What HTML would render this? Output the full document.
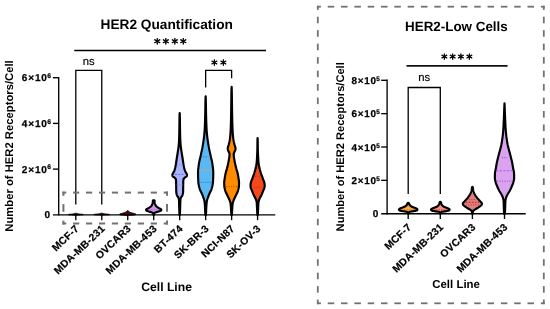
<!DOCTYPE html>
<html><head><meta charset="utf-8"><title>HER2 Quantification</title>
<style>html,body{margin:0;padding:0;background:#fff}svg{display:block}text{fill:#000;text-rendering:geometricPrecision}</style>
</head><body>
<svg width="550" height="309" viewBox="0 0 550 309">
<rect width="550" height="309" fill="#fff"/>
<path d="M75.80,213.22 L76.22,213.28 L76.62,213.35 L76.97,213.42 L77.28,213.49 L77.54,213.56 L77.79,213.63 L78.04,213.69 L78.30,213.76 L78.60,213.83 L78.95,213.90 L79.42,213.97 L80.05,214.04 L80.76,214.10 L81.48,214.17 L82.14,214.24 L82.67,214.31 L83.00,214.38 L83.13,214.45 L83.23,214.52 L83.32,214.58 L83.39,214.65 L83.43,214.72 L83.45,214.79 L83.25,214.86 L82.55,214.93 L81.44,214.99 L80.02,215.06 L78.37,215.13 L76.61,215.20 L74.99,215.20 L73.23,215.13 L71.58,215.06 L70.16,214.99 L69.05,214.93 L68.35,214.86 L68.15,214.79 L68.17,214.72 L68.21,214.65 L68.28,214.58 L68.37,214.52 L68.47,214.45 L68.60,214.38 L68.93,214.31 L69.46,214.24 L70.12,214.17 L70.84,214.10 L71.55,214.04 L72.18,213.97 L72.65,213.90 L73.00,213.83 L73.30,213.76 L73.56,213.69 L73.81,213.63 L74.06,213.56 L74.32,213.49 L74.63,213.42 L74.98,213.35 L75.38,213.28 L75.80,213.22Z" fill="#2a0a00" stroke="#000" stroke-width="0.7" stroke-linejoin="round"/>
<path d="M101.77,213.01 L102.05,213.09 L102.33,213.17 L102.62,213.24 L102.91,213.32 L103.19,213.39 L103.47,213.47 L103.75,213.54 L104.05,213.62 L104.38,213.69 L104.75,213.77 L105.21,213.84 L105.88,213.92 L106.67,213.99 L107.50,214.07 L108.27,214.15 L108.87,214.22 L109.21,214.30 L109.36,214.37 L109.50,214.45 L109.61,214.52 L109.71,214.60 L109.77,214.67 L109.81,214.75 L109.78,214.82 L109.21,214.90 L108.04,214.97 L106.45,215.05 L104.58,215.12 L102.58,215.20 L100.96,215.20 L98.96,215.12 L97.09,215.05 L95.50,214.97 L94.33,214.90 L93.76,214.82 L93.73,214.75 L93.77,214.67 L93.83,214.60 L93.93,214.52 L94.04,214.45 L94.18,214.37 L94.33,214.30 L94.67,214.22 L95.27,214.15 L96.04,214.07 L96.87,213.99 L97.66,213.92 L98.33,213.84 L98.79,213.77 L99.16,213.69 L99.49,213.62 L99.79,213.54 L100.07,213.47 L100.35,213.39 L100.63,213.32 L100.92,213.24 L101.21,213.17 L101.49,213.09 L101.77,213.01Z" fill="#5a0a0a" stroke="#000" stroke-width="0.7" stroke-linejoin="round"/>
<path d="M127.74,210.45 L127.85,210.57 L127.96,210.70 L128.08,210.82 L128.21,210.95 L128.34,211.07 L128.49,211.20 L128.63,211.32 L128.78,211.44 L128.93,211.57 L129.09,211.69 L129.26,211.82 L129.44,211.94 L129.64,212.07 L129.86,212.19 L130.10,212.32 L130.39,212.44 L130.73,212.56 L131.12,212.69 L131.54,212.81 L131.98,212.94 L132.43,213.06 L132.86,213.19 L133.27,213.31 L133.74,213.43 L134.26,213.56 L134.79,213.68 L135.27,213.81 L135.63,213.93 L135.82,214.06 L135.83,214.18 L135.81,214.31 L135.75,214.43 L135.67,214.55 L135.57,214.68 L135.44,214.80 L134.70,214.93 L133.06,215.05 L130.85,215.18 L128.40,215.30 L127.08,215.30 L124.63,215.18 L122.42,215.05 L120.78,214.93 L120.04,214.80 L119.91,214.68 L119.81,214.55 L119.73,214.43 L119.67,214.31 L119.65,214.18 L119.66,214.06 L119.85,213.93 L120.21,213.81 L120.69,213.68 L121.22,213.56 L121.74,213.43 L122.21,213.31 L122.62,213.19 L123.05,213.06 L123.50,212.94 L123.94,212.81 L124.36,212.69 L124.75,212.56 L125.09,212.44 L125.38,212.32 L125.62,212.19 L125.84,212.07 L126.04,211.94 L126.22,211.82 L126.39,211.69 L126.55,211.57 L126.70,211.44 L126.85,211.32 L126.99,211.20 L127.14,211.07 L127.27,210.95 L127.40,210.82 L127.52,210.70 L127.63,210.57 L127.74,210.45Z" fill="#4a0808" stroke="#000" stroke-width="1.0" stroke-linejoin="round"/>
<path d="M153.71,200.17 L154.33,200.32 L154.39,200.47 L154.44,200.62 L154.48,200.77 L154.52,200.92 L154.54,201.07 L154.57,201.22 L154.58,201.37 L154.60,201.52 L154.61,201.67 L154.62,201.82 L154.63,201.97 L154.64,202.12 L154.65,202.27 L154.67,202.41 L154.68,202.56 L154.71,202.71 L154.73,202.86 L154.76,203.01 L154.80,203.16 L154.84,203.31 L154.88,203.46 L154.92,203.61 L154.97,203.76 L155.02,203.91 L155.07,204.06 L155.13,204.21 L155.19,204.36 L155.25,204.51 L155.32,204.66 L155.38,204.81 L155.46,204.96 L155.53,205.11 L155.61,205.26 L155.70,205.41 L155.80,205.56 L155.91,205.71 L156.04,205.86 L156.17,206.01 L156.31,206.16 L156.46,206.31 L156.62,206.46 L156.79,206.61 L156.96,206.76 L157.13,206.91 L157.31,207.06 L157.50,207.21 L157.71,207.36 L157.93,207.51 L158.16,207.66 L158.41,207.81 L158.65,207.96 L158.91,208.11 L159.16,208.26 L159.43,208.41 L159.75,208.56 L160.08,208.71 L160.40,208.86 L160.68,209.01 L160.89,209.16 L161.04,209.31 L161.17,209.46 L161.28,209.61 L161.33,209.76 L161.33,209.91 L161.28,210.06 L161.21,210.21 L161.12,210.36 L161.01,210.51 L160.88,210.66 L160.63,210.80 L160.27,210.95 L159.83,211.10 L159.34,211.25 L158.84,211.40 L158.37,211.55 L157.92,211.70 L157.43,211.85 L156.92,212.00 L156.42,212.15 L155.96,212.30 L155.56,212.45 L155.24,212.60 L154.93,212.75 L154.65,212.90 L154.44,213.05 L154.32,213.20 L154.27,213.35 L154.21,213.50 L154.17,213.65 L154.13,213.80 L154.09,213.95 L154.06,214.10 L154.03,214.25 L154.01,214.40 L153.99,214.55 L153.98,214.70 L153.97,214.85 L153.97,215.00 L153.45,215.00 L153.45,214.85 L153.44,214.70 L153.43,214.55 L153.41,214.40 L153.39,214.25 L153.36,214.10 L153.33,213.95 L153.29,213.80 L153.25,213.65 L153.21,213.50 L153.15,213.35 L153.10,213.20 L152.98,213.05 L152.77,212.90 L152.49,212.75 L152.18,212.60 L151.86,212.45 L151.46,212.30 L151.00,212.15 L150.50,212.00 L149.99,211.85 L149.50,211.70 L149.05,211.55 L148.58,211.40 L148.08,211.25 L147.59,211.10 L147.15,210.95 L146.79,210.80 L146.54,210.66 L146.41,210.51 L146.30,210.36 L146.21,210.21 L146.14,210.06 L146.09,209.91 L146.09,209.76 L146.14,209.61 L146.25,209.46 L146.38,209.31 L146.53,209.16 L146.74,209.01 L147.02,208.86 L147.34,208.71 L147.67,208.56 L147.99,208.41 L148.26,208.26 L148.51,208.11 L148.77,207.96 L149.01,207.81 L149.26,207.66 L149.49,207.51 L149.71,207.36 L149.92,207.21 L150.11,207.06 L150.29,206.91 L150.46,206.76 L150.63,206.61 L150.80,206.46 L150.96,206.31 L151.11,206.16 L151.25,206.01 L151.38,205.86 L151.51,205.71 L151.62,205.56 L151.72,205.41 L151.81,205.26 L151.89,205.11 L151.96,204.96 L152.04,204.81 L152.10,204.66 L152.17,204.51 L152.23,204.36 L152.29,204.21 L152.35,204.06 L152.40,203.91 L152.45,203.76 L152.50,203.61 L152.54,203.46 L152.58,203.31 L152.62,203.16 L152.66,203.01 L152.69,202.86 L152.71,202.71 L152.74,202.56 L152.75,202.41 L152.77,202.27 L152.78,202.12 L152.79,201.97 L152.80,201.82 L152.81,201.67 L152.82,201.52 L152.84,201.37 L152.85,201.22 L152.88,201.07 L152.90,200.92 L152.94,200.77 L152.98,200.62 L153.03,200.47 L153.09,200.32 L153.71,200.17Z" fill="#cf93ea" stroke="#000" stroke-width="2.15" stroke-linejoin="round"/>
<path d="M179.68,112.97 L179.73,113.47 L179.77,113.96 L179.78,114.46 L179.80,114.96 L179.81,115.46 L179.83,115.95 L179.84,116.45 L179.85,116.95 L179.86,117.45 L179.87,117.94 L179.88,118.44 L179.89,118.94 L179.89,119.44 L179.90,119.94 L179.91,120.43 L179.91,120.93 L179.92,121.43 L179.93,121.93 L179.93,122.42 L179.94,122.92 L179.94,123.42 L179.95,123.92 L179.95,124.42 L179.96,124.91 L179.96,125.41 L179.97,125.91 L179.97,126.41 L179.98,126.90 L179.99,127.40 L179.99,127.90 L180.00,128.40 L180.01,128.89 L180.02,129.39 L180.03,129.89 L180.04,130.39 L180.05,130.89 L180.06,131.38 L180.07,131.88 L180.08,132.38 L180.09,132.88 L180.10,133.37 L180.11,133.87 L180.12,134.37 L180.13,134.87 L180.15,135.36 L180.16,135.86 L180.17,136.36 L180.19,136.86 L180.20,137.36 L180.22,137.85 L180.23,138.35 L180.25,138.85 L180.27,139.35 L180.29,139.84 L180.31,140.34 L180.33,140.84 L180.36,141.34 L180.39,141.84 L180.42,142.33 L180.46,142.83 L180.49,143.33 L180.53,143.83 L180.58,144.32 L180.62,144.82 L180.67,145.32 L180.71,145.82 L180.76,146.31 L180.82,146.81 L180.88,147.31 L180.95,147.81 L181.02,148.31 L181.09,148.80 L181.17,149.30 L181.25,149.80 L181.32,150.30 L181.40,150.79 L181.47,151.29 L181.55,151.79 L181.62,152.29 L181.70,152.79 L181.78,153.28 L181.85,153.78 L181.93,154.28 L182.01,154.78 L182.09,155.27 L182.17,155.77 L182.25,156.27 L182.33,156.77 L182.41,157.26 L182.49,157.76 L182.56,158.26 L182.64,158.76 L182.72,159.26 L182.80,159.75 L182.88,160.25 L182.96,160.75 L183.04,161.25 L183.12,161.74 L183.19,162.24 L183.27,162.74 L183.34,163.24 L183.42,163.73 L183.49,164.23 L183.57,164.73 L183.66,165.23 L183.75,165.73 L183.85,166.22 L183.95,166.72 L184.05,167.22 L184.16,167.72 L184.28,168.21 L184.40,168.71 L184.53,169.21 L184.67,169.71 L184.83,170.21 L185.00,170.70 L185.19,171.20 L185.45,171.70 L185.75,172.20 L186.07,172.69 L186.35,173.19 L186.62,173.69 L186.88,174.19 L187.00,174.68 L186.97,175.18 L186.88,175.68 L186.74,176.18 L186.37,176.68 L185.55,177.17 L184.75,177.67 L184.25,178.17 L183.81,178.67 L183.49,179.16 L183.39,179.66 L183.36,180.16 L183.33,180.66 L183.30,181.16 L183.28,181.65 L183.27,182.15 L183.25,182.65 L183.24,183.15 L183.23,183.64 L183.22,184.14 L183.21,184.64 L183.20,185.14 L183.19,185.63 L183.19,186.13 L183.18,186.63 L183.17,187.13 L183.17,187.63 L183.17,188.12 L183.16,188.62 L183.16,189.12 L183.15,189.62 L183.15,190.11 L183.14,190.61 L183.13,191.11 L183.12,191.61 L183.10,192.10 L183.06,192.60 L182.99,193.10 L182.89,193.60 L182.76,194.10 L182.63,194.59 L182.47,195.09 L182.24,195.59 L181.92,196.09 L181.58,196.58 L181.28,197.08 L181.03,197.58 L180.80,198.08 L180.60,198.58 L180.50,199.07 L180.46,199.57 L180.42,200.07 L180.39,200.57 L180.37,201.06 L180.34,201.56 L180.33,202.06 L180.31,202.56 L180.29,203.05 L180.27,203.55 L180.26,204.05 L180.24,204.55 L180.23,205.05 L180.21,205.54 L180.20,206.04 L180.19,206.54 L180.17,207.04 L180.16,207.53 L180.15,208.03 L180.13,208.53 L180.12,209.03 L180.10,209.53 L180.08,210.02 L180.07,210.52 L180.05,211.02 L180.03,211.52 L180.01,212.01 L180.00,212.51 L179.98,213.01 L179.96,213.51 L179.94,214.00 L179.92,214.50 L179.90,215.00 L179.46,215.00 L179.44,214.50 L179.42,214.00 L179.40,213.51 L179.38,213.01 L179.36,212.51 L179.35,212.01 L179.33,211.52 L179.31,211.02 L179.29,210.52 L179.28,210.02 L179.26,209.53 L179.24,209.03 L179.23,208.53 L179.21,208.03 L179.20,207.53 L179.19,207.04 L179.17,206.54 L179.16,206.04 L179.15,205.54 L179.13,205.05 L179.12,204.55 L179.10,204.05 L179.09,203.55 L179.07,203.05 L179.05,202.56 L179.03,202.06 L179.02,201.56 L178.99,201.06 L178.97,200.57 L178.94,200.07 L178.90,199.57 L178.86,199.07 L178.76,198.58 L178.56,198.08 L178.33,197.58 L178.08,197.08 L177.78,196.58 L177.44,196.09 L177.12,195.59 L176.89,195.09 L176.73,194.59 L176.60,194.10 L176.47,193.60 L176.37,193.10 L176.30,192.60 L176.26,192.10 L176.24,191.61 L176.23,191.11 L176.22,190.61 L176.21,190.11 L176.21,189.62 L176.20,189.12 L176.20,188.62 L176.19,188.12 L176.19,187.63 L176.19,187.13 L176.18,186.63 L176.17,186.13 L176.17,185.63 L176.16,185.14 L176.15,184.64 L176.14,184.14 L176.13,183.64 L176.12,183.15 L176.11,182.65 L176.09,182.15 L176.08,181.65 L176.06,181.16 L176.03,180.66 L176.00,180.16 L175.97,179.66 L175.87,179.16 L175.55,178.67 L175.11,178.17 L174.61,177.67 L173.81,177.17 L172.99,176.68 L172.62,176.18 L172.48,175.68 L172.39,175.18 L172.36,174.68 L172.48,174.19 L172.74,173.69 L173.01,173.19 L173.29,172.69 L173.61,172.20 L173.91,171.70 L174.17,171.20 L174.36,170.70 L174.53,170.21 L174.69,169.71 L174.83,169.21 L174.96,168.71 L175.08,168.21 L175.20,167.72 L175.31,167.22 L175.41,166.72 L175.51,166.22 L175.61,165.73 L175.70,165.23 L175.79,164.73 L175.87,164.23 L175.94,163.73 L176.02,163.24 L176.09,162.74 L176.17,162.24 L176.24,161.74 L176.32,161.25 L176.40,160.75 L176.48,160.25 L176.56,159.75 L176.64,159.26 L176.72,158.76 L176.80,158.26 L176.87,157.76 L176.95,157.26 L177.03,156.77 L177.11,156.27 L177.19,155.77 L177.27,155.27 L177.35,154.78 L177.43,154.28 L177.51,153.78 L177.58,153.28 L177.66,152.79 L177.74,152.29 L177.81,151.79 L177.89,151.29 L177.96,150.79 L178.04,150.30 L178.11,149.80 L178.19,149.30 L178.27,148.80 L178.34,148.31 L178.41,147.81 L178.48,147.31 L178.54,146.81 L178.60,146.31 L178.65,145.82 L178.69,145.32 L178.74,144.82 L178.78,144.32 L178.83,143.83 L178.87,143.33 L178.90,142.83 L178.94,142.33 L178.97,141.84 L179.00,141.34 L179.03,140.84 L179.05,140.34 L179.07,139.84 L179.09,139.35 L179.11,138.85 L179.13,138.35 L179.14,137.85 L179.16,137.36 L179.17,136.86 L179.19,136.36 L179.20,135.86 L179.21,135.36 L179.23,134.87 L179.24,134.37 L179.25,133.87 L179.26,133.37 L179.27,132.88 L179.28,132.38 L179.29,131.88 L179.30,131.38 L179.31,130.89 L179.32,130.39 L179.33,129.89 L179.34,129.39 L179.35,128.89 L179.36,128.40 L179.37,127.90 L179.37,127.40 L179.38,126.90 L179.39,126.41 L179.39,125.91 L179.40,125.41 L179.40,124.91 L179.41,124.42 L179.41,123.92 L179.42,123.42 L179.42,122.92 L179.43,122.42 L179.43,121.93 L179.44,121.43 L179.45,120.93 L179.45,120.43 L179.46,119.94 L179.47,119.44 L179.47,118.94 L179.48,118.44 L179.49,117.94 L179.50,117.45 L179.51,116.95 L179.52,116.45 L179.53,115.95 L179.55,115.46 L179.56,114.96 L179.58,114.46 L179.59,113.96 L179.63,113.47 L179.68,112.97Z" fill="#a9b4fa" stroke="#000" stroke-width="2.15" stroke-linejoin="round"/>
<path d="M205.65,96.27 L205.69,96.77 L205.73,97.27 L205.75,97.76 L205.76,98.26 L205.78,98.76 L205.80,99.26 L205.81,99.76 L205.82,100.26 L205.84,100.76 L205.85,101.26 L205.86,101.76 L205.87,102.25 L205.88,102.75 L205.89,103.25 L205.90,103.75 L205.91,104.25 L205.92,104.75 L205.92,105.25 L205.93,105.75 L205.94,106.25 L205.95,106.74 L205.95,107.24 L205.96,107.74 L205.97,108.24 L205.97,108.74 L205.98,109.24 L205.99,109.74 L205.99,110.24 L206.00,110.73 L206.01,111.23 L206.02,111.73 L206.03,112.23 L206.04,112.73 L206.05,113.23 L206.06,113.73 L206.07,114.23 L206.08,114.73 L206.09,115.22 L206.11,115.72 L206.12,116.22 L206.13,116.72 L206.15,117.22 L206.16,117.72 L206.17,118.22 L206.19,118.72 L206.20,119.22 L206.21,119.71 L206.23,120.21 L206.24,120.71 L206.26,121.21 L206.28,121.71 L206.29,122.21 L206.31,122.71 L206.33,123.21 L206.34,123.71 L206.36,124.20 L206.38,124.70 L206.40,125.20 L206.42,125.70 L206.44,126.20 L206.46,126.70 L206.49,127.20 L206.51,127.70 L206.53,128.20 L206.56,128.69 L206.59,129.19 L206.62,129.69 L206.65,130.19 L206.69,130.69 L206.72,131.19 L206.76,131.69 L206.80,132.19 L206.84,132.69 L206.88,133.18 L206.93,133.68 L206.97,134.18 L207.02,134.68 L207.07,135.18 L207.12,135.68 L207.17,136.18 L207.23,136.68 L207.29,137.18 L207.35,137.67 L207.41,138.17 L207.48,138.67 L207.54,139.17 L207.61,139.67 L207.69,140.17 L207.76,140.67 L207.83,141.17 L207.91,141.67 L207.99,142.16 L208.07,142.66 L208.15,143.16 L208.23,143.66 L208.31,144.16 L208.40,144.66 L208.48,145.16 L208.57,145.66 L208.65,146.16 L208.74,146.65 L208.83,147.15 L208.92,147.65 L209.02,148.15 L209.11,148.65 L209.22,149.15 L209.32,149.65 L209.42,150.15 L209.53,150.64 L209.64,151.14 L209.75,151.64 L209.86,152.14 L209.96,152.64 L210.07,153.14 L210.18,153.64 L210.29,154.14 L210.40,154.64 L210.50,155.13 L210.61,155.63 L210.73,156.13 L210.84,156.63 L210.96,157.13 L211.08,157.63 L211.20,158.13 L211.32,158.63 L211.44,159.13 L211.56,159.62 L211.68,160.12 L211.79,160.62 L211.90,161.12 L212.00,161.62 L212.10,162.12 L212.19,162.62 L212.27,163.12 L212.35,163.62 L212.42,164.11 L212.49,164.61 L212.55,165.11 L212.62,165.61 L212.69,166.11 L212.76,166.61 L212.82,167.11 L212.89,167.61 L212.95,168.11 L213.00,168.60 L213.06,169.10 L213.10,169.60 L213.15,170.10 L213.19,170.60 L213.22,171.10 L213.24,171.60 L213.26,172.10 L213.27,172.60 L213.27,173.09 L213.27,173.59 L213.27,174.09 L213.26,174.59 L213.26,175.09 L213.25,175.59 L213.23,176.09 L213.22,176.59 L213.21,177.09 L213.19,177.58 L213.17,178.08 L213.15,178.58 L213.13,179.08 L213.11,179.58 L213.08,180.08 L213.05,180.58 L213.03,181.08 L213.00,181.58 L212.97,182.07 L212.93,182.57 L212.88,183.07 L212.81,183.57 L212.73,184.07 L212.65,184.57 L212.56,185.07 L212.46,185.57 L212.36,186.07 L212.25,186.56 L212.13,187.06 L212.00,187.56 L211.85,188.06 L211.70,188.56 L211.53,189.06 L211.36,189.56 L211.18,190.06 L210.97,190.56 L210.73,191.05 L210.48,191.55 L210.23,192.05 L209.99,192.55 L209.76,193.05 L209.53,193.55 L209.31,194.05 L209.08,194.55 L208.86,195.04 L208.65,195.54 L208.46,196.04 L208.27,196.54 L208.10,197.04 L207.92,197.54 L207.76,198.04 L207.60,198.54 L207.45,199.04 L207.30,199.53 L207.15,200.03 L207.00,200.53 L206.88,201.03 L206.78,201.53 L206.71,202.03 L206.66,202.53 L206.61,203.03 L206.56,203.53 L206.52,204.02 L206.48,204.52 L206.45,205.02 L206.41,205.52 L206.38,206.02 L206.35,206.52 L206.32,207.02 L206.29,207.52 L206.26,208.02 L206.24,208.51 L206.21,209.01 L206.19,209.51 L206.17,210.01 L206.15,210.51 L206.13,211.01 L206.11,211.51 L206.09,212.01 L206.06,212.51 L206.03,213.00 L206.01,213.50 L205.98,214.00 L205.94,214.50 L205.91,215.00 L205.39,215.00 L205.36,214.50 L205.32,214.00 L205.29,213.50 L205.27,213.00 L205.24,212.51 L205.21,212.01 L205.19,211.51 L205.17,211.01 L205.15,210.51 L205.13,210.01 L205.11,209.51 L205.09,209.01 L205.06,208.51 L205.04,208.02 L205.01,207.52 L204.98,207.02 L204.95,206.52 L204.92,206.02 L204.89,205.52 L204.85,205.02 L204.82,204.52 L204.78,204.02 L204.74,203.53 L204.69,203.03 L204.64,202.53 L204.59,202.03 L204.52,201.53 L204.42,201.03 L204.30,200.53 L204.15,200.03 L204.00,199.53 L203.85,199.04 L203.70,198.54 L203.54,198.04 L203.38,197.54 L203.20,197.04 L203.03,196.54 L202.84,196.04 L202.65,195.54 L202.44,195.04 L202.22,194.55 L201.99,194.05 L201.77,193.55 L201.54,193.05 L201.31,192.55 L201.07,192.05 L200.82,191.55 L200.57,191.05 L200.33,190.56 L200.12,190.06 L199.94,189.56 L199.77,189.06 L199.60,188.56 L199.45,188.06 L199.30,187.56 L199.17,187.06 L199.05,186.56 L198.94,186.07 L198.84,185.57 L198.74,185.07 L198.65,184.57 L198.57,184.07 L198.49,183.57 L198.42,183.07 L198.37,182.57 L198.33,182.07 L198.30,181.58 L198.27,181.08 L198.25,180.58 L198.22,180.08 L198.19,179.58 L198.17,179.08 L198.15,178.58 L198.13,178.08 L198.11,177.58 L198.09,177.09 L198.08,176.59 L198.07,176.09 L198.05,175.59 L198.04,175.09 L198.04,174.59 L198.03,174.09 L198.03,173.59 L198.03,173.09 L198.03,172.60 L198.04,172.10 L198.06,171.60 L198.08,171.10 L198.11,170.60 L198.15,170.10 L198.20,169.60 L198.24,169.10 L198.30,168.60 L198.35,168.11 L198.41,167.61 L198.48,167.11 L198.54,166.61 L198.61,166.11 L198.68,165.61 L198.75,165.11 L198.81,164.61 L198.88,164.11 L198.95,163.62 L199.03,163.12 L199.11,162.62 L199.20,162.12 L199.30,161.62 L199.40,161.12 L199.51,160.62 L199.62,160.12 L199.74,159.62 L199.86,159.13 L199.98,158.63 L200.10,158.13 L200.22,157.63 L200.34,157.13 L200.46,156.63 L200.57,156.13 L200.69,155.63 L200.80,155.13 L200.90,154.64 L201.01,154.14 L201.12,153.64 L201.23,153.14 L201.34,152.64 L201.44,152.14 L201.55,151.64 L201.66,151.14 L201.77,150.64 L201.88,150.15 L201.98,149.65 L202.08,149.15 L202.19,148.65 L202.28,148.15 L202.38,147.65 L202.47,147.15 L202.56,146.65 L202.65,146.16 L202.73,145.66 L202.82,145.16 L202.90,144.66 L202.99,144.16 L203.07,143.66 L203.15,143.16 L203.23,142.66 L203.31,142.16 L203.39,141.67 L203.47,141.17 L203.54,140.67 L203.61,140.17 L203.69,139.67 L203.76,139.17 L203.82,138.67 L203.89,138.17 L203.95,137.67 L204.01,137.18 L204.07,136.68 L204.13,136.18 L204.18,135.68 L204.23,135.18 L204.28,134.68 L204.33,134.18 L204.37,133.68 L204.42,133.18 L204.46,132.69 L204.50,132.19 L204.54,131.69 L204.58,131.19 L204.61,130.69 L204.65,130.19 L204.68,129.69 L204.71,129.19 L204.74,128.69 L204.77,128.20 L204.79,127.70 L204.81,127.20 L204.84,126.70 L204.86,126.20 L204.88,125.70 L204.90,125.20 L204.92,124.70 L204.94,124.20 L204.96,123.71 L204.97,123.21 L204.99,122.71 L205.01,122.21 L205.02,121.71 L205.04,121.21 L205.06,120.71 L205.07,120.21 L205.09,119.71 L205.10,119.22 L205.11,118.72 L205.13,118.22 L205.14,117.72 L205.15,117.22 L205.17,116.72 L205.18,116.22 L205.19,115.72 L205.21,115.22 L205.22,114.73 L205.23,114.23 L205.24,113.73 L205.25,113.23 L205.26,112.73 L205.27,112.23 L205.28,111.73 L205.29,111.23 L205.30,110.73 L205.31,110.24 L205.31,109.74 L205.32,109.24 L205.33,108.74 L205.33,108.24 L205.34,107.74 L205.35,107.24 L205.35,106.74 L205.36,106.25 L205.37,105.75 L205.38,105.25 L205.38,104.75 L205.39,104.25 L205.40,103.75 L205.41,103.25 L205.42,102.75 L205.43,102.25 L205.44,101.76 L205.45,101.26 L205.46,100.76 L205.48,100.26 L205.49,99.76 L205.50,99.26 L205.52,98.76 L205.54,98.26 L205.55,97.76 L205.57,97.27 L205.61,96.77 L205.65,96.27Z" fill="#5ab8f5" stroke="#000" stroke-width="2.15" stroke-linejoin="round"/>
<path d="M231.62,86.77 L231.66,87.27 L231.70,87.77 L231.72,88.26 L231.73,88.76 L231.75,89.26 L231.76,89.76 L231.77,90.26 L231.78,90.76 L231.80,91.26 L231.81,91.76 L231.82,92.26 L231.83,92.76 L231.84,93.25 L231.85,93.75 L231.85,94.25 L231.86,94.75 L231.87,95.25 L231.88,95.75 L231.88,96.25 L231.89,96.75 L231.90,97.25 L231.90,97.74 L231.91,98.24 L231.91,98.74 L231.92,99.24 L231.93,99.74 L231.93,100.24 L231.94,100.74 L231.94,101.24 L231.95,101.74 L231.95,102.24 L231.96,102.73 L231.96,103.23 L231.97,103.73 L231.97,104.23 L231.98,104.73 L231.98,105.23 L231.99,105.73 L232.00,106.23 L232.00,106.73 L232.01,107.22 L232.02,107.72 L232.03,108.22 L232.03,108.72 L232.04,109.22 L232.05,109.72 L232.06,110.22 L232.07,110.72 L232.08,111.22 L232.09,111.72 L232.10,112.21 L232.11,112.71 L232.12,113.21 L232.13,113.71 L232.14,114.21 L232.15,114.71 L232.16,115.21 L232.17,115.71 L232.18,116.21 L232.19,116.71 L232.20,117.20 L232.21,117.70 L232.22,118.20 L232.23,118.70 L232.24,119.20 L232.25,119.70 L232.26,120.20 L232.27,120.70 L232.29,121.20 L232.30,121.69 L232.31,122.19 L232.32,122.69 L232.34,123.19 L232.35,123.69 L232.37,124.19 L232.38,124.69 L232.40,125.19 L232.41,125.69 L232.43,126.19 L232.45,126.68 L232.46,127.18 L232.48,127.68 L232.50,128.18 L232.52,128.68 L232.54,129.18 L232.57,129.68 L232.59,130.18 L232.62,130.68 L232.64,131.17 L232.67,131.67 L232.70,132.17 L232.74,132.67 L232.77,133.17 L232.81,133.67 L232.84,134.17 L232.88,134.67 L232.92,135.17 L232.97,135.67 L233.01,136.16 L233.06,136.66 L233.11,137.16 L233.16,137.66 L233.21,138.16 L233.27,138.66 L233.34,139.16 L233.42,139.66 L233.51,140.16 L233.60,140.66 L233.70,141.15 L233.81,141.65 L233.91,142.15 L234.03,142.65 L234.14,143.15 L234.26,143.65 L234.38,144.15 L234.52,144.65 L234.68,145.15 L234.85,145.64 L235.01,146.14 L235.16,146.64 L235.28,147.14 L235.40,147.64 L235.51,148.14 L235.54,148.64 L235.50,149.14 L235.39,149.64 L235.25,150.14 L235.10,150.63 L234.87,151.13 L234.58,151.63 L234.30,152.13 L234.10,152.63 L233.92,153.13 L233.78,153.63 L233.75,154.13 L233.75,154.63 L233.76,155.12 L233.78,155.62 L233.80,156.12 L233.84,156.62 L233.91,157.12 L233.99,157.62 L234.09,158.12 L234.18,158.62 L234.26,159.12 L234.35,159.62 L234.43,160.11 L234.52,160.61 L234.61,161.11 L234.71,161.61 L234.80,162.11 L234.90,162.61 L235.00,163.11 L235.10,163.61 L235.21,164.11 L235.32,164.61 L235.43,165.10 L235.55,165.60 L235.67,166.10 L235.79,166.60 L235.92,167.10 L236.04,167.60 L236.17,168.10 L236.30,168.60 L236.45,169.10 L236.59,169.59 L236.74,170.09 L236.89,170.59 L237.04,171.09 L237.19,171.59 L237.32,172.09 L237.45,172.59 L237.56,173.09 L237.67,173.59 L237.78,174.09 L237.88,174.58 L237.98,175.08 L238.08,175.58 L238.17,176.08 L238.26,176.58 L238.35,177.08 L238.43,177.58 L238.51,178.08 L238.58,178.58 L238.66,179.07 L238.73,179.57 L238.81,180.07 L238.88,180.57 L238.95,181.07 L239.00,181.57 L239.03,182.07 L239.04,182.57 L239.04,183.07 L239.03,183.57 L239.02,184.06 L239.01,184.56 L238.99,185.06 L238.97,185.56 L238.94,186.06 L238.90,186.56 L238.84,187.06 L238.76,187.56 L238.66,188.06 L238.55,188.56 L238.43,189.05 L238.31,189.55 L238.18,190.05 L238.03,190.55 L237.85,191.05 L237.66,191.55 L237.46,192.05 L237.25,192.55 L237.04,193.05 L236.82,193.54 L236.59,194.04 L236.35,194.54 L236.10,195.04 L235.86,195.54 L235.61,196.04 L235.36,196.54 L235.13,197.04 L234.89,197.54 L234.65,198.04 L234.41,198.53 L234.17,199.03 L233.94,199.53 L233.73,200.03 L233.53,200.53 L233.35,201.03 L233.16,201.53 L232.99,202.03 L232.85,202.53 L232.75,203.02 L232.68,203.52 L232.63,204.02 L232.58,204.52 L232.54,205.02 L232.49,205.52 L232.45,206.02 L232.41,206.52 L232.37,207.02 L232.33,207.52 L232.30,208.01 L232.27,208.51 L232.23,209.01 L232.20,209.51 L232.17,210.01 L232.13,210.51 L232.10,211.01 L232.07,211.51 L232.04,212.01 L232.01,212.51 L231.99,213.00 L231.96,213.50 L231.93,214.00 L231.91,214.50 L231.88,215.00 L231.36,215.00 L231.33,214.50 L231.31,214.00 L231.28,213.50 L231.25,213.00 L231.23,212.51 L231.20,212.01 L231.17,211.51 L231.14,211.01 L231.11,210.51 L231.07,210.01 L231.04,209.51 L231.01,209.01 L230.97,208.51 L230.94,208.01 L230.91,207.52 L230.87,207.02 L230.83,206.52 L230.79,206.02 L230.75,205.52 L230.70,205.02 L230.66,204.52 L230.61,204.02 L230.56,203.52 L230.49,203.02 L230.39,202.53 L230.25,202.03 L230.08,201.53 L229.89,201.03 L229.71,200.53 L229.51,200.03 L229.30,199.53 L229.07,199.03 L228.83,198.53 L228.59,198.04 L228.35,197.54 L228.11,197.04 L227.88,196.54 L227.63,196.04 L227.38,195.54 L227.14,195.04 L226.89,194.54 L226.65,194.04 L226.42,193.54 L226.20,193.05 L225.99,192.55 L225.78,192.05 L225.58,191.55 L225.39,191.05 L225.21,190.55 L225.06,190.05 L224.93,189.55 L224.81,189.05 L224.69,188.56 L224.58,188.06 L224.48,187.56 L224.40,187.06 L224.34,186.56 L224.30,186.06 L224.27,185.56 L224.25,185.06 L224.23,184.56 L224.22,184.06 L224.21,183.57 L224.20,183.07 L224.20,182.57 L224.21,182.07 L224.24,181.57 L224.29,181.07 L224.36,180.57 L224.43,180.07 L224.51,179.57 L224.58,179.07 L224.66,178.58 L224.73,178.08 L224.81,177.58 L224.89,177.08 L224.98,176.58 L225.07,176.08 L225.16,175.58 L225.26,175.08 L225.36,174.58 L225.46,174.09 L225.57,173.59 L225.68,173.09 L225.79,172.59 L225.92,172.09 L226.05,171.59 L226.20,171.09 L226.35,170.59 L226.50,170.09 L226.65,169.59 L226.79,169.10 L226.94,168.60 L227.07,168.10 L227.20,167.60 L227.32,167.10 L227.45,166.60 L227.57,166.10 L227.69,165.60 L227.81,165.10 L227.92,164.61 L228.03,164.11 L228.14,163.61 L228.24,163.11 L228.34,162.61 L228.44,162.11 L228.53,161.61 L228.63,161.11 L228.72,160.61 L228.81,160.11 L228.89,159.62 L228.98,159.12 L229.06,158.62 L229.15,158.12 L229.25,157.62 L229.33,157.12 L229.40,156.62 L229.44,156.12 L229.46,155.62 L229.48,155.12 L229.49,154.63 L229.49,154.13 L229.46,153.63 L229.32,153.13 L229.14,152.63 L228.94,152.13 L228.66,151.63 L228.37,151.13 L228.14,150.63 L227.99,150.14 L227.85,149.64 L227.74,149.14 L227.70,148.64 L227.73,148.14 L227.84,147.64 L227.96,147.14 L228.08,146.64 L228.23,146.14 L228.39,145.64 L228.56,145.15 L228.72,144.65 L228.86,144.15 L228.98,143.65 L229.10,143.15 L229.21,142.65 L229.33,142.15 L229.43,141.65 L229.54,141.15 L229.64,140.66 L229.73,140.16 L229.82,139.66 L229.90,139.16 L229.97,138.66 L230.03,138.16 L230.08,137.66 L230.13,137.16 L230.18,136.66 L230.23,136.16 L230.27,135.67 L230.32,135.17 L230.36,134.67 L230.40,134.17 L230.43,133.67 L230.47,133.17 L230.50,132.67 L230.54,132.17 L230.57,131.67 L230.60,131.17 L230.62,130.68 L230.65,130.18 L230.67,129.68 L230.70,129.18 L230.72,128.68 L230.74,128.18 L230.76,127.68 L230.78,127.18 L230.79,126.68 L230.81,126.19 L230.83,125.69 L230.84,125.19 L230.86,124.69 L230.87,124.19 L230.89,123.69 L230.90,123.19 L230.92,122.69 L230.93,122.19 L230.94,121.69 L230.95,121.20 L230.97,120.70 L230.98,120.20 L230.99,119.70 L231.00,119.20 L231.01,118.70 L231.02,118.20 L231.03,117.70 L231.04,117.20 L231.05,116.71 L231.06,116.21 L231.07,115.71 L231.08,115.21 L231.09,114.71 L231.10,114.21 L231.11,113.71 L231.12,113.21 L231.13,112.71 L231.14,112.21 L231.15,111.72 L231.16,111.22 L231.17,110.72 L231.18,110.22 L231.19,109.72 L231.20,109.22 L231.21,108.72 L231.21,108.22 L231.22,107.72 L231.23,107.22 L231.24,106.73 L231.24,106.23 L231.25,105.73 L231.26,105.23 L231.26,104.73 L231.27,104.23 L231.27,103.73 L231.28,103.23 L231.28,102.73 L231.29,102.24 L231.29,101.74 L231.30,101.24 L231.30,100.74 L231.31,100.24 L231.31,99.74 L231.32,99.24 L231.33,98.74 L231.33,98.24 L231.34,97.74 L231.34,97.25 L231.35,96.75 L231.36,96.25 L231.36,95.75 L231.37,95.25 L231.38,94.75 L231.39,94.25 L231.39,93.75 L231.40,93.25 L231.41,92.76 L231.42,92.26 L231.43,91.76 L231.44,91.26 L231.46,90.76 L231.47,90.26 L231.48,89.76 L231.49,89.26 L231.51,88.76 L231.52,88.26 L231.54,87.77 L231.58,87.27 L231.62,86.77Z" fill="#ff8c00" stroke="#000" stroke-width="2.15" stroke-linejoin="round"/>
<path d="M257.59,137.97 L257.64,138.46 L257.68,138.96 L257.69,139.46 L257.71,139.96 L257.72,140.45 L257.73,140.95 L257.74,141.45 L257.75,141.94 L257.75,142.44 L257.76,142.94 L257.77,143.43 L257.77,143.93 L257.78,144.43 L257.78,144.93 L257.79,145.42 L257.79,145.92 L257.80,146.42 L257.80,146.91 L257.81,147.41 L257.81,147.91 L257.82,148.40 L257.83,148.90 L257.84,149.40 L257.85,149.90 L257.86,150.39 L257.88,150.89 L257.89,151.39 L257.91,151.88 L257.93,152.38 L257.95,152.88 L257.97,153.37 L257.99,153.87 L258.01,154.37 L258.04,154.86 L258.06,155.36 L258.09,155.86 L258.11,156.36 L258.14,156.85 L258.17,157.35 L258.19,157.85 L258.22,158.34 L258.25,158.84 L258.28,159.34 L258.31,159.83 L258.35,160.33 L258.38,160.83 L258.42,161.33 L258.46,161.82 L258.51,162.32 L258.56,162.82 L258.61,163.31 L258.67,163.81 L258.74,164.31 L258.82,164.80 L258.91,165.30 L259.01,165.80 L259.12,166.30 L259.24,166.79 L259.35,167.29 L259.47,167.79 L259.58,168.28 L259.70,168.78 L259.82,169.28 L259.95,169.77 L260.08,170.27 L260.22,170.77 L260.36,171.27 L260.50,171.76 L260.65,172.26 L260.80,172.76 L260.96,173.25 L261.12,173.75 L261.29,174.25 L261.46,174.74 L261.64,175.24 L261.82,175.74 L262.00,176.24 L262.19,176.73 L262.37,177.23 L262.55,177.73 L262.74,178.22 L262.92,178.72 L263.09,179.22 L263.28,179.71 L263.48,180.21 L263.68,180.71 L263.88,181.21 L264.06,181.70 L264.22,182.20 L264.35,182.70 L264.45,183.19 L264.54,183.69 L264.62,184.19 L264.68,184.68 L264.71,185.18 L264.70,185.68 L264.66,186.17 L264.58,186.67 L264.49,187.17 L264.39,187.67 L264.28,188.16 L264.13,188.66 L263.93,189.16 L263.71,189.65 L263.49,190.15 L263.26,190.65 L263.06,191.14 L262.87,191.64 L262.68,192.14 L262.49,192.64 L262.30,193.13 L262.11,193.63 L261.91,194.13 L261.69,194.62 L261.46,195.12 L261.20,195.62 L260.93,196.11 L260.65,196.61 L260.37,197.11 L260.11,197.61 L259.87,198.10 L259.64,198.60 L259.42,199.10 L259.21,199.59 L259.03,200.09 L258.88,200.59 L258.74,201.08 L258.62,201.58 L258.52,202.08 L258.46,202.58 L258.42,203.07 L258.39,203.57 L258.37,204.07 L258.35,204.56 L258.33,205.06 L258.31,205.56 L258.29,206.05 L258.26,206.55 L258.23,207.05 L258.20,207.55 L258.18,208.04 L258.15,208.54 L258.12,209.04 L258.09,209.53 L258.07,210.03 L258.05,210.53 L258.02,211.02 L258.00,211.52 L257.98,212.02 L257.95,212.52 L257.93,213.01 L257.91,213.51 L257.89,214.01 L257.87,214.50 L257.85,215.00 L257.33,215.00 L257.31,214.50 L257.29,214.01 L257.27,213.51 L257.25,213.01 L257.23,212.52 L257.20,212.02 L257.18,211.52 L257.16,211.02 L257.13,210.53 L257.11,210.03 L257.09,209.53 L257.06,209.04 L257.03,208.54 L257.00,208.04 L256.98,207.55 L256.95,207.05 L256.92,206.55 L256.89,206.05 L256.87,205.56 L256.85,205.06 L256.83,204.56 L256.81,204.07 L256.79,203.57 L256.76,203.07 L256.72,202.58 L256.66,202.08 L256.56,201.58 L256.44,201.08 L256.30,200.59 L256.15,200.09 L255.97,199.59 L255.76,199.10 L255.54,198.60 L255.31,198.10 L255.07,197.61 L254.81,197.11 L254.53,196.61 L254.25,196.11 L253.98,195.62 L253.72,195.12 L253.49,194.62 L253.27,194.13 L253.07,193.63 L252.88,193.13 L252.69,192.64 L252.50,192.14 L252.31,191.64 L252.12,191.14 L251.92,190.65 L251.69,190.15 L251.47,189.65 L251.25,189.16 L251.05,188.66 L250.90,188.16 L250.79,187.67 L250.69,187.17 L250.60,186.67 L250.52,186.17 L250.48,185.68 L250.47,185.18 L250.50,184.68 L250.56,184.19 L250.64,183.69 L250.73,183.19 L250.83,182.70 L250.96,182.20 L251.12,181.70 L251.30,181.21 L251.50,180.71 L251.70,180.21 L251.90,179.71 L252.09,179.22 L252.26,178.72 L252.44,178.22 L252.63,177.73 L252.81,177.23 L252.99,176.73 L253.18,176.24 L253.36,175.74 L253.54,175.24 L253.72,174.74 L253.89,174.25 L254.06,173.75 L254.22,173.25 L254.38,172.76 L254.53,172.26 L254.68,171.76 L254.82,171.27 L254.96,170.77 L255.10,170.27 L255.23,169.77 L255.36,169.28 L255.48,168.78 L255.60,168.28 L255.71,167.79 L255.83,167.29 L255.94,166.79 L256.06,166.30 L256.17,165.80 L256.27,165.30 L256.36,164.80 L256.44,164.31 L256.51,163.81 L256.57,163.31 L256.62,162.82 L256.67,162.32 L256.72,161.82 L256.76,161.33 L256.80,160.83 L256.83,160.33 L256.87,159.83 L256.90,159.34 L256.93,158.84 L256.96,158.34 L256.99,157.85 L257.01,157.35 L257.04,156.85 L257.07,156.36 L257.09,155.86 L257.12,155.36 L257.14,154.86 L257.17,154.37 L257.19,153.87 L257.21,153.37 L257.23,152.88 L257.25,152.38 L257.27,151.88 L257.29,151.39 L257.30,150.89 L257.32,150.39 L257.33,149.90 L257.34,149.40 L257.35,148.90 L257.36,148.40 L257.37,147.91 L257.37,147.41 L257.38,146.91 L257.38,146.42 L257.39,145.92 L257.39,145.42 L257.40,144.93 L257.40,144.43 L257.41,143.93 L257.41,143.43 L257.42,142.94 L257.43,142.44 L257.43,141.94 L257.44,141.45 L257.45,140.95 L257.46,140.45 L257.47,139.96 L257.49,139.46 L257.50,138.96 L257.54,138.46 L257.59,137.97Z" fill="#f4481d" stroke="#000" stroke-width="2.15" stroke-linejoin="round"/>
<line x1="176.68" y1="164.80" x2="182.68" y2="164.80" stroke="#7380e6" stroke-width="0.8" stroke-dasharray="1.2 1.2"/>
<line x1="175.08" y1="174.40" x2="184.28" y2="174.40" stroke="#4f5ff0" stroke-width="0.9" stroke-dasharray="1.8 1.4"/>
<line x1="176.68" y1="184.80" x2="182.68" y2="184.80" stroke="#7380e6" stroke-width="0.8" stroke-dasharray="1.2 1.2"/>
<line x1="203.05" y1="156.80" x2="208.25" y2="156.80" stroke="#2d6ea6" stroke-width="0.8" stroke-dasharray="1.2 1.2"/>
<line x1="199.25" y1="170.30" x2="212.05" y2="170.30" stroke="#ff9a2e" stroke-width="1.1" stroke-dasharray="2.2 1.8"/>
<line x1="200.25" y1="182.30" x2="211.05" y2="182.30" stroke="#2d6ea6" stroke-width="0.8" stroke-dasharray="1.2 1.2"/>
<line x1="226.22" y1="186.50" x2="237.02" y2="186.50" stroke="#b85a00" stroke-width="0.9" stroke-dasharray="1.2 1.2"/>
<line x1="254.99" y1="176.40" x2="260.19" y2="176.40" stroke="#c2300a" stroke-width="0.9" stroke-dasharray="1.2 1.2"/>
<line x1="253.79" y1="187.40" x2="261.39" y2="187.40" stroke="#c2300a" stroke-width="0.9" stroke-dasharray="1.2 1.2"/>
<line x1="148.71" y1="209.80" x2="158.71" y2="209.80" stroke="#a050d0" stroke-width="0.7" stroke-dasharray="1.2 1.2"/>
<line x1="58.7" y1="77.02" x2="58.7" y2="215.48" stroke="#000" stroke-width="1.35"/>
<line x1="52.9" y1="214.8" x2="275.3" y2="214.8" stroke="#000" stroke-width="1.35"/>
<line x1="52.9" y1="169.10" x2="58.7" y2="169.10" stroke="#000" stroke-width="1.35"/>
<line x1="52.9" y1="123.40" x2="58.7" y2="123.40" stroke="#000" stroke-width="1.35"/>
<line x1="52.9" y1="77.70" x2="58.7" y2="77.70" stroke="#000" stroke-width="1.35"/>
<line x1="75.80" y1="214.8" x2="75.80" y2="220.2" stroke="#000" stroke-width="1.35"/>
<line x1="101.77" y1="214.8" x2="101.77" y2="220.2" stroke="#000" stroke-width="1.35"/>
<line x1="127.74" y1="214.8" x2="127.74" y2="220.2" stroke="#000" stroke-width="1.35"/>
<line x1="153.71" y1="214.8" x2="153.71" y2="220.2" stroke="#000" stroke-width="1.35"/>
<line x1="179.68" y1="214.8" x2="179.68" y2="220.2" stroke="#000" stroke-width="1.35"/>
<line x1="205.65" y1="214.8" x2="205.65" y2="220.2" stroke="#000" stroke-width="1.35"/>
<line x1="231.62" y1="214.8" x2="231.62" y2="220.2" stroke="#000" stroke-width="1.35"/>
<line x1="257.59" y1="214.8" x2="257.59" y2="220.2" stroke="#000" stroke-width="1.35"/>
<text x="21.78 28.19 34.88 41.29" y="172.55" font-family="Liberation Sans, Arial, sans-serif" font-weight="bold" font-size="10.0" stroke="#000" stroke-width="0.25">2×10</text><text x="47.25" y="169.45" font-family="Liberation Sans, Arial, sans-serif" font-weight="bold" font-size="6.7" stroke="#000" stroke-width="0.2">6</text>
<text x="21.78 28.19 34.88 41.29" y="126.85" font-family="Liberation Sans, Arial, sans-serif" font-weight="bold" font-size="10.0" stroke="#000" stroke-width="0.25">4×10</text><text x="47.25" y="123.75" font-family="Liberation Sans, Arial, sans-serif" font-weight="bold" font-size="6.7" stroke="#000" stroke-width="0.2">6</text>
<text x="21.78 28.19 34.88 41.29" y="81.15" font-family="Liberation Sans, Arial, sans-serif" font-weight="bold" font-size="10.0" stroke="#000" stroke-width="0.25">6×10</text><text x="47.25" y="78.05" font-family="Liberation Sans, Arial, sans-serif" font-weight="bold" font-size="6.7" stroke="#000" stroke-width="0.2">6</text>
<text x="50.0" y="218.20" text-anchor="end" font-family="Liberation Sans, Arial, sans-serif" font-weight="bold" font-size="10" stroke="#000" stroke-width="0.25">0</text>
<text transform="translate(13.3,146) rotate(-90)" text-anchor="middle" font-family="Liberation Sans, Arial, sans-serif" font-weight="bold" font-size="11.25">Number of HER2 Receptors/Cell</text>
<text x="166.6" y="290.5" text-anchor="middle" font-family="Liberation Sans, Arial, sans-serif" font-weight="bold" font-size="12.2">Cell Line</text>
<text x="166.7" y="29.2" text-anchor="middle" font-family="Liberation Sans, Arial, sans-serif" font-weight="bold" font-size="13.7">HER2 Quantification</text>
<text transform="translate(79.60,229.4) rotate(-43.5)" text-anchor="end" font-family="Liberation Sans, Arial, sans-serif" font-weight="bold" font-size="10.3" letter-spacing="0.22" stroke="#000" stroke-width="0.2">MCF-7</text>
<text transform="translate(105.57,229.4) rotate(-43.5)" text-anchor="end" font-family="Liberation Sans, Arial, sans-serif" font-weight="bold" font-size="10.3" letter-spacing="0.22" stroke="#000" stroke-width="0.2">MDA-MB-231</text>
<text transform="translate(131.54,229.4) rotate(-43.5)" text-anchor="end" font-family="Liberation Sans, Arial, sans-serif" font-weight="bold" font-size="10.3" letter-spacing="0.22" stroke="#000" stroke-width="0.2">OVCAR3</text>
<text transform="translate(157.51,229.4) rotate(-43.5)" text-anchor="end" font-family="Liberation Sans, Arial, sans-serif" font-weight="bold" font-size="10.3" letter-spacing="0.22" stroke="#000" stroke-width="0.2">MDA-MB-453</text>
<text transform="translate(183.48,229.4) rotate(-43.5)" text-anchor="end" font-family="Liberation Sans, Arial, sans-serif" font-weight="bold" font-size="10.3" letter-spacing="0.22" stroke="#000" stroke-width="0.2">BT-474</text>
<text transform="translate(209.45,229.4) rotate(-43.5)" text-anchor="end" font-family="Liberation Sans, Arial, sans-serif" font-weight="bold" font-size="10.3" letter-spacing="0.22" stroke="#000" stroke-width="0.2">SK-BR-3</text>
<text transform="translate(235.42,229.4) rotate(-43.5)" text-anchor="end" font-family="Liberation Sans, Arial, sans-serif" font-weight="bold" font-size="10.3" letter-spacing="0.22" stroke="#000" stroke-width="0.2">NCI-N87</text>
<text transform="translate(261.39,229.4) rotate(-43.5)" text-anchor="end" font-family="Liberation Sans, Arial, sans-serif" font-weight="bold" font-size="10.3" letter-spacing="0.22" stroke="#000" stroke-width="0.2">SK-OV-3</text>
<line x1="74.3" y1="50.5" x2="266" y2="50.5" stroke="#000" stroke-width="1.5"/>
<text x="153.88 162.62 171.38 180.12" y="48.07" font-family="DejaVu Sans, sans-serif" font-size="13.2" stroke="#000" stroke-width="0.6" stroke-linejoin="round">****</text>
<path d="M75.80,204.6 V70.3 H101.77 V204.6" fill="none" stroke="#000" stroke-width="1.3"/>
<text x="88.78" y="64.7" text-anchor="middle" font-family="Liberation Sans, Arial, sans-serif" font-size="11.3" stroke="#000" stroke-width="0.15">ns</text>
<path d="M205.65,87.5 V70.3 H231.62 V78.2" fill="none" stroke="#000" stroke-width="1.3"/>
<text x="211.35 220.15" y="68.62" font-family="DejaVu Sans, sans-serif" font-size="12.6" stroke="#000" stroke-width="0.6" stroke-linejoin="round">**</text>
<line x1="62.40" y1="192.6" x2="66.30" y2="192.6" stroke="#727272" stroke-width="2.0"/><line x1="73.05" y1="192.6" x2="79.25" y2="192.6" stroke="#727272" stroke-width="2.0"/><line x1="86.00" y1="192.6" x2="92.20" y2="192.6" stroke="#727272" stroke-width="2.0"/><line x1="98.95" y1="192.6" x2="105.15" y2="192.6" stroke="#727272" stroke-width="2.0"/><line x1="111.90" y1="192.6" x2="118.10" y2="192.6" stroke="#727272" stroke-width="2.0"/><line x1="124.85" y1="192.6" x2="131.05" y2="192.6" stroke="#727272" stroke-width="2.0"/><line x1="137.80" y1="192.6" x2="144.00" y2="192.6" stroke="#727272" stroke-width="2.0"/><line x1="150.75" y1="192.6" x2="156.95" y2="192.6" stroke="#727272" stroke-width="2.0"/><line x1="163.70" y1="192.6" x2="168.00" y2="192.6" stroke="#727272" stroke-width="2.0"/>
<line x1="62.40" y1="223.5" x2="66.30" y2="223.5" stroke="#727272" stroke-width="2.0"/><line x1="73.05" y1="223.5" x2="79.25" y2="223.5" stroke="#727272" stroke-width="2.0"/><line x1="86.00" y1="223.5" x2="92.20" y2="223.5" stroke="#727272" stroke-width="2.0"/><line x1="98.95" y1="223.5" x2="105.15" y2="223.5" stroke="#727272" stroke-width="2.0"/><line x1="111.90" y1="223.5" x2="118.10" y2="223.5" stroke="#727272" stroke-width="2.0"/><line x1="124.85" y1="223.5" x2="131.05" y2="223.5" stroke="#727272" stroke-width="2.0"/><line x1="137.80" y1="223.5" x2="144.00" y2="223.5" stroke="#727272" stroke-width="2.0"/><line x1="150.75" y1="223.5" x2="156.95" y2="223.5" stroke="#727272" stroke-width="2.0"/><line x1="163.70" y1="223.5" x2="168.00" y2="223.5" stroke="#727272" stroke-width="2.0"/>
<line x1="63.4" y1="191.60" x2="63.4" y2="195.80" stroke="#727272" stroke-width="2.0"/><line x1="63.4" y1="204.10" x2="63.4" y2="211.80" stroke="#727272" stroke-width="2.0"/><line x1="63.4" y1="220.60" x2="63.4" y2="224.50" stroke="#727272" stroke-width="2.0"/>
<line x1="167.0" y1="191.60" x2="167.0" y2="195.80" stroke="#727272" stroke-width="2.0"/><line x1="167.0" y1="204.10" x2="167.0" y2="211.80" stroke="#727272" stroke-width="2.0"/><line x1="167.0" y1="220.60" x2="167.0" y2="224.50" stroke="#727272" stroke-width="2.0"/>
<path d="M408.20,202.89 L408.64,203.03 L408.78,203.16 L408.89,203.30 L408.97,203.44 L409.03,203.57 L409.08,203.71 L409.13,203.85 L409.17,203.98 L409.22,204.12 L409.29,204.26 L409.37,204.40 L409.45,204.53 L409.52,204.67 L409.60,204.81 L409.69,204.94 L409.78,205.08 L409.87,205.22 L409.98,205.35 L410.09,205.49 L410.22,205.63 L410.38,205.76 L410.55,205.90 L410.74,206.04 L410.95,206.17 L411.16,206.31 L411.38,206.45 L411.61,206.58 L411.87,206.72 L412.14,206.86 L412.43,207.00 L412.74,207.13 L413.07,207.27 L413.45,207.41 L413.86,207.54 L414.28,207.68 L414.68,207.82 L415.04,207.95 L415.39,208.09 L415.74,208.23 L416.06,208.36 L416.34,208.50 L416.55,208.64 L416.75,208.77 L416.94,208.91 L417.11,209.05 L417.25,209.18 L417.35,209.32 L417.40,209.46 L417.39,209.59 L417.36,209.73 L417.31,209.87 L417.23,210.01 L417.13,210.14 L417.02,210.28 L416.88,210.42 L416.55,210.55 L415.97,210.69 L415.23,210.83 L414.41,210.96 L413.62,211.10 L412.92,211.24 L412.15,211.37 L411.32,211.51 L410.52,211.65 L409.83,211.78 L409.36,211.92 L409.17,212.06 L409.04,212.19 L408.92,212.33 L408.81,212.47 L408.71,212.61 L408.63,212.74 L408.55,212.88 L408.49,213.02 L408.44,213.15 L408.40,213.29 L408.37,213.43 L408.36,213.56 L408.35,213.70 L408.05,213.70 L408.04,213.56 L408.03,213.43 L408.00,213.29 L407.96,213.15 L407.91,213.02 L407.85,212.88 L407.77,212.74 L407.69,212.61 L407.59,212.47 L407.48,212.33 L407.36,212.19 L407.23,212.06 L407.04,211.92 L406.57,211.78 L405.88,211.65 L405.08,211.51 L404.25,211.37 L403.48,211.24 L402.78,211.10 L401.99,210.96 L401.17,210.83 L400.43,210.69 L399.85,210.55 L399.52,210.42 L399.38,210.28 L399.27,210.14 L399.17,210.01 L399.09,209.87 L399.04,209.73 L399.01,209.59 L399.00,209.46 L399.05,209.32 L399.15,209.18 L399.29,209.05 L399.46,208.91 L399.65,208.77 L399.85,208.64 L400.06,208.50 L400.34,208.36 L400.66,208.23 L401.01,208.09 L401.36,207.95 L401.72,207.82 L402.12,207.68 L402.54,207.54 L402.95,207.41 L403.33,207.27 L403.66,207.13 L403.97,207.00 L404.26,206.86 L404.53,206.72 L404.79,206.58 L405.02,206.45 L405.24,206.31 L405.45,206.17 L405.66,206.04 L405.85,205.90 L406.02,205.76 L406.18,205.63 L406.31,205.49 L406.42,205.35 L406.53,205.22 L406.62,205.08 L406.71,204.94 L406.80,204.81 L406.88,204.67 L406.95,204.53 L407.03,204.40 L407.11,204.26 L407.18,204.12 L407.23,203.98 L407.27,203.85 L407.32,203.71 L407.37,203.57 L407.43,203.44 L407.51,203.30 L407.62,203.16 L407.76,203.03 L408.20,202.89Z" fill="#f8ae4a" stroke="#000" stroke-width="2.2" stroke-linejoin="round"/>
<path d="M440.30,201.89 L440.74,202.04 L440.85,202.19 L440.93,202.34 L441.00,202.49 L441.05,202.64 L441.08,202.79 L441.12,202.94 L441.14,203.09 L441.17,203.24 L441.20,203.38 L441.23,203.53 L441.28,203.68 L441.34,203.83 L441.41,203.98 L441.48,204.13 L441.55,204.28 L441.63,204.43 L441.71,204.58 L441.80,204.73 L441.89,204.88 L441.99,205.03 L442.10,205.18 L442.21,205.33 L442.34,205.48 L442.48,205.63 L442.63,205.78 L442.79,205.93 L442.97,206.08 L443.16,206.23 L443.36,206.37 L443.59,206.52 L443.86,206.67 L444.17,206.82 L444.49,206.97 L444.82,207.12 L445.17,207.27 L445.54,207.42 L445.94,207.57 L446.34,207.72 L446.73,207.87 L447.09,208.02 L447.47,208.17 L447.83,208.32 L448.17,208.47 L448.46,208.62 L448.70,208.77 L448.93,208.92 L449.15,209.07 L449.35,209.22 L449.50,209.36 L449.59,209.51 L449.60,209.66 L449.56,209.81 L449.49,209.96 L449.39,210.11 L449.26,210.26 L449.10,210.41 L448.90,210.56 L448.42,210.71 L447.71,210.86 L446.87,211.01 L445.98,211.16 L445.16,211.31 L444.24,211.46 L443.20,211.61 L442.23,211.76 L441.53,211.91 L441.27,212.06 L441.12,212.21 L440.99,212.35 L440.87,212.50 L440.77,212.65 L440.69,212.80 L440.61,212.95 L440.55,213.10 L440.51,213.25 L440.48,213.40 L440.46,213.55 L440.45,213.70 L440.15,213.70 L440.14,213.55 L440.12,213.40 L440.09,213.25 L440.05,213.10 L439.99,212.95 L439.91,212.80 L439.83,212.65 L439.73,212.50 L439.61,212.35 L439.48,212.21 L439.33,212.06 L439.07,211.91 L438.37,211.76 L437.40,211.61 L436.36,211.46 L435.44,211.31 L434.62,211.16 L433.73,211.01 L432.89,210.86 L432.18,210.71 L431.70,210.56 L431.50,210.41 L431.34,210.26 L431.21,210.11 L431.11,209.96 L431.04,209.81 L431.00,209.66 L431.01,209.51 L431.10,209.36 L431.25,209.22 L431.45,209.07 L431.67,208.92 L431.90,208.77 L432.14,208.62 L432.43,208.47 L432.77,208.32 L433.13,208.17 L433.51,208.02 L433.87,207.87 L434.26,207.72 L434.66,207.57 L435.06,207.42 L435.43,207.27 L435.78,207.12 L436.11,206.97 L436.43,206.82 L436.74,206.67 L437.01,206.52 L437.24,206.37 L437.44,206.23 L437.63,206.08 L437.81,205.93 L437.97,205.78 L438.12,205.63 L438.26,205.48 L438.39,205.33 L438.50,205.18 L438.61,205.03 L438.71,204.88 L438.80,204.73 L438.89,204.58 L438.97,204.43 L439.05,204.28 L439.12,204.13 L439.19,203.98 L439.26,203.83 L439.32,203.68 L439.37,203.53 L439.40,203.38 L439.43,203.24 L439.46,203.09 L439.48,202.94 L439.52,202.79 L439.55,202.64 L439.60,202.49 L439.67,202.34 L439.75,202.19 L439.86,202.04 L440.30,201.89Z" fill="#f4907c" stroke="#000" stroke-width="2.2" stroke-linejoin="round"/>
<path d="M472.40,186.77 L472.62,186.99 L472.76,187.22 L472.82,187.45 L472.86,187.67 L472.90,187.90 L472.93,188.13 L472.96,188.35 L472.98,188.58 L473.01,188.80 L473.03,189.03 L473.06,189.26 L473.10,189.48 L473.14,189.71 L473.18,189.94 L473.22,190.16 L473.27,190.39 L473.32,190.62 L473.37,190.84 L473.42,191.07 L473.48,191.29 L473.54,191.52 L473.61,191.75 L473.69,191.97 L473.78,192.20 L473.87,192.43 L473.96,192.65 L474.05,192.88 L474.15,193.10 L474.25,193.33 L474.35,193.56 L474.45,193.78 L474.56,194.01 L474.68,194.24 L474.79,194.46 L474.92,194.69 L475.05,194.92 L475.20,195.14 L475.36,195.37 L475.52,195.59 L475.68,195.82 L475.85,196.05 L476.01,196.27 L476.16,196.50 L476.32,196.73 L476.47,196.95 L476.62,197.18 L476.78,197.40 L476.94,197.63 L477.11,197.86 L477.29,198.08 L477.49,198.31 L477.70,198.54 L477.92,198.76 L478.14,198.99 L478.36,199.22 L478.58,199.44 L478.79,199.67 L478.99,199.89 L479.18,200.12 L479.38,200.35 L479.57,200.57 L479.77,200.80 L479.97,201.03 L480.17,201.25 L480.39,201.48 L480.62,201.70 L480.85,201.93 L481.07,202.16 L481.27,202.38 L481.43,202.61 L481.58,202.84 L481.73,203.06 L481.85,203.29 L481.92,203.52 L481.92,203.74 L481.89,203.97 L481.84,204.19 L481.78,204.42 L481.71,204.65 L481.59,204.87 L481.42,205.10 L481.21,205.33 L480.98,205.55 L480.75,205.78 L480.50,206.00 L480.21,206.23 L479.90,206.46 L479.56,206.68 L479.22,206.91 L478.87,207.14 L478.53,207.36 L478.18,207.59 L477.82,207.82 L477.45,208.04 L477.07,208.27 L476.70,208.49 L476.32,208.72 L475.93,208.95 L475.54,209.17 L475.15,209.40 L474.78,209.63 L474.45,209.85 L474.10,210.08 L473.77,210.31 L473.48,210.53 L473.29,210.76 L473.20,210.98 L473.12,211.21 L473.04,211.44 L472.97,211.66 L472.91,211.89 L472.85,212.12 L472.80,212.34 L472.76,212.57 L472.72,212.79 L472.70,213.02 L472.68,213.25 L472.67,213.47 L472.66,213.70 L472.14,213.70 L472.13,213.47 L472.12,213.25 L472.10,213.02 L472.08,212.79 L472.04,212.57 L472.00,212.34 L471.95,212.12 L471.89,211.89 L471.83,211.66 L471.76,211.44 L471.68,211.21 L471.60,210.98 L471.51,210.76 L471.32,210.53 L471.03,210.31 L470.70,210.08 L470.35,209.85 L470.02,209.63 L469.65,209.40 L469.26,209.17 L468.87,208.95 L468.48,208.72 L468.10,208.49 L467.73,208.27 L467.35,208.04 L466.98,207.82 L466.62,207.59 L466.27,207.36 L465.93,207.14 L465.58,206.91 L465.24,206.68 L464.90,206.46 L464.59,206.23 L464.30,206.00 L464.05,205.78 L463.82,205.55 L463.59,205.33 L463.38,205.10 L463.21,204.87 L463.09,204.65 L463.02,204.42 L462.96,204.19 L462.91,203.97 L462.88,203.74 L462.88,203.52 L462.95,203.29 L463.07,203.06 L463.22,202.84 L463.37,202.61 L463.53,202.38 L463.73,202.16 L463.95,201.93 L464.18,201.70 L464.41,201.48 L464.63,201.25 L464.83,201.03 L465.03,200.80 L465.23,200.57 L465.42,200.35 L465.62,200.12 L465.81,199.89 L466.01,199.67 L466.22,199.44 L466.44,199.22 L466.66,198.99 L466.88,198.76 L467.10,198.54 L467.31,198.31 L467.51,198.08 L467.69,197.86 L467.86,197.63 L468.02,197.40 L468.18,197.18 L468.33,196.95 L468.48,196.73 L468.64,196.50 L468.79,196.27 L468.95,196.05 L469.12,195.82 L469.28,195.59 L469.44,195.37 L469.60,195.14 L469.75,194.92 L469.88,194.69 L470.01,194.46 L470.12,194.24 L470.24,194.01 L470.35,193.78 L470.45,193.56 L470.55,193.33 L470.65,193.10 L470.75,192.88 L470.84,192.65 L470.93,192.43 L471.02,192.20 L471.11,191.97 L471.19,191.75 L471.26,191.52 L471.32,191.29 L471.38,191.07 L471.43,190.84 L471.48,190.62 L471.53,190.39 L471.58,190.16 L471.62,189.94 L471.66,189.71 L471.70,189.48 L471.74,189.26 L471.77,189.03 L471.79,188.80 L471.82,188.58 L471.84,188.35 L471.87,188.13 L471.90,187.90 L471.94,187.67 L471.98,187.45 L472.04,187.22 L472.18,186.99 L472.40,186.77Z" fill="#dc8080" stroke="#000" stroke-width="2.15" stroke-linejoin="round"/>
<path d="M504.50,103.37 L504.53,103.87 L504.56,104.37 L504.58,104.87 L504.60,105.36 L504.63,105.86 L504.65,106.36 L504.67,106.86 L504.69,107.36 L504.71,107.86 L504.73,108.36 L504.75,108.86 L504.77,109.36 L504.79,109.86 L504.81,110.36 L504.83,110.86 L504.85,111.36 L504.87,111.85 L504.89,112.35 L504.90,112.85 L504.92,113.35 L504.94,113.85 L504.96,114.35 L504.98,114.85 L505.00,115.35 L505.02,115.85 L505.04,116.35 L505.06,116.85 L505.08,117.35 L505.11,117.85 L505.13,118.34 L505.15,118.84 L505.17,119.34 L505.19,119.84 L505.22,120.34 L505.24,120.84 L505.26,121.34 L505.28,121.84 L505.30,122.34 L505.33,122.84 L505.35,123.34 L505.37,123.84 L505.39,124.34 L505.42,124.83 L505.44,125.33 L505.47,125.83 L505.50,126.33 L505.52,126.83 L505.55,127.33 L505.58,127.83 L505.61,128.33 L505.64,128.83 L505.68,129.33 L505.71,129.83 L505.75,130.33 L505.79,130.83 L505.83,131.33 L505.87,131.82 L505.92,132.32 L505.96,132.82 L506.01,133.32 L506.06,133.82 L506.12,134.32 L506.17,134.82 L506.23,135.32 L506.29,135.82 L506.35,136.32 L506.41,136.82 L506.48,137.32 L506.55,137.82 L506.61,138.31 L506.68,138.81 L506.75,139.31 L506.83,139.81 L506.90,140.31 L506.98,140.81 L507.05,141.31 L507.13,141.81 L507.21,142.31 L507.29,142.81 L507.38,143.31 L507.47,143.81 L507.56,144.31 L507.66,144.80 L507.77,145.30 L507.88,145.80 L507.99,146.30 L508.11,146.80 L508.24,147.30 L508.36,147.80 L508.49,148.30 L508.62,148.80 L508.76,149.30 L508.89,149.80 L509.03,150.30 L509.17,150.80 L509.30,151.29 L509.44,151.79 L509.58,152.29 L509.72,152.79 L509.85,153.29 L509.98,153.79 L510.12,154.29 L510.25,154.79 L510.37,155.29 L510.50,155.79 L510.62,156.29 L510.74,156.79 L510.87,157.29 L510.99,157.78 L511.12,158.28 L511.25,158.78 L511.37,159.28 L511.50,159.78 L511.62,160.28 L511.74,160.78 L511.85,161.28 L511.97,161.78 L512.08,162.28 L512.18,162.78 L512.28,163.28 L512.37,163.78 L512.46,164.28 L512.55,164.77 L512.63,165.27 L512.72,165.77 L512.80,166.27 L512.88,166.77 L512.96,167.27 L513.05,167.77 L513.13,168.27 L513.22,168.77 L513.32,169.27 L513.43,169.77 L513.55,170.27 L513.67,170.77 L513.78,171.26 L513.88,171.76 L513.96,172.26 L514.01,172.76 L514.03,173.26 L514.05,173.76 L514.07,174.26 L514.08,174.76 L514.09,175.26 L514.10,175.76 L514.11,176.26 L514.12,176.76 L514.12,177.26 L514.12,177.75 L514.12,178.25 L514.09,178.75 L514.03,179.25 L513.94,179.75 L513.84,180.25 L513.73,180.75 L513.61,181.25 L513.49,181.75 L513.36,182.25 L513.22,182.75 L513.06,183.25 L512.89,183.75 L512.69,184.24 L512.49,184.74 L512.28,185.24 L512.07,185.74 L511.85,186.24 L511.64,186.74 L511.42,187.24 L511.21,187.74 L510.98,188.24 L510.75,188.74 L510.52,189.24 L510.27,189.74 L510.02,190.24 L509.77,190.73 L509.50,191.23 L509.20,191.73 L508.89,192.23 L508.57,192.73 L508.24,193.23 L507.93,193.73 L507.63,194.23 L507.36,194.73 L507.11,195.23 L506.88,195.73 L506.65,196.23 L506.44,196.73 L506.26,197.23 L506.09,197.72 L505.94,198.22 L505.80,198.72 L505.69,199.22 L505.60,199.72 L505.54,200.22 L505.48,200.72 L505.43,201.22 L505.39,201.72 L505.36,202.22 L505.34,202.72 L505.31,203.22 L505.29,203.72 L505.28,204.21 L505.26,204.71 L505.24,205.21 L505.23,205.71 L505.21,206.21 L505.20,206.71 L505.18,207.21 L505.17,207.71 L505.15,208.21 L505.13,208.71 L505.11,209.21 L505.09,209.71 L505.07,210.21 L505.05,210.70 L505.03,211.20 L505.02,211.70 L505.00,212.20 L504.98,212.70 L504.96,213.20 L504.94,213.70 L504.06,213.70 L504.04,213.20 L504.02,212.70 L504.00,212.20 L503.98,211.70 L503.97,211.20 L503.95,210.70 L503.93,210.21 L503.91,209.71 L503.89,209.21 L503.87,208.71 L503.85,208.21 L503.83,207.71 L503.82,207.21 L503.80,206.71 L503.79,206.21 L503.77,205.71 L503.76,205.21 L503.74,204.71 L503.72,204.21 L503.71,203.72 L503.69,203.22 L503.66,202.72 L503.64,202.22 L503.61,201.72 L503.57,201.22 L503.52,200.72 L503.46,200.22 L503.40,199.72 L503.31,199.22 L503.20,198.72 L503.06,198.22 L502.91,197.72 L502.74,197.23 L502.56,196.73 L502.35,196.23 L502.12,195.73 L501.89,195.23 L501.64,194.73 L501.37,194.23 L501.07,193.73 L500.76,193.23 L500.43,192.73 L500.11,192.23 L499.80,191.73 L499.50,191.23 L499.23,190.73 L498.98,190.24 L498.73,189.74 L498.48,189.24 L498.25,188.74 L498.02,188.24 L497.79,187.74 L497.58,187.24 L497.36,186.74 L497.15,186.24 L496.93,185.74 L496.72,185.24 L496.51,184.74 L496.31,184.24 L496.11,183.75 L495.94,183.25 L495.78,182.75 L495.64,182.25 L495.51,181.75 L495.39,181.25 L495.27,180.75 L495.16,180.25 L495.06,179.75 L494.97,179.25 L494.91,178.75 L494.88,178.25 L494.88,177.75 L494.88,177.26 L494.88,176.76 L494.89,176.26 L494.90,175.76 L494.91,175.26 L494.92,174.76 L494.93,174.26 L494.95,173.76 L494.97,173.26 L494.99,172.76 L495.04,172.26 L495.12,171.76 L495.22,171.26 L495.33,170.77 L495.45,170.27 L495.57,169.77 L495.68,169.27 L495.78,168.77 L495.87,168.27 L495.95,167.77 L496.04,167.27 L496.12,166.77 L496.20,166.27 L496.28,165.77 L496.37,165.27 L496.45,164.77 L496.54,164.28 L496.63,163.78 L496.72,163.28 L496.82,162.78 L496.92,162.28 L497.03,161.78 L497.15,161.28 L497.26,160.78 L497.38,160.28 L497.50,159.78 L497.63,159.28 L497.75,158.78 L497.88,158.28 L498.01,157.78 L498.13,157.29 L498.26,156.79 L498.38,156.29 L498.50,155.79 L498.63,155.29 L498.75,154.79 L498.88,154.29 L499.02,153.79 L499.15,153.29 L499.28,152.79 L499.42,152.29 L499.56,151.79 L499.70,151.29 L499.83,150.80 L499.97,150.30 L500.11,149.80 L500.24,149.30 L500.38,148.80 L500.51,148.30 L500.64,147.80 L500.76,147.30 L500.89,146.80 L501.01,146.30 L501.12,145.80 L501.23,145.30 L501.34,144.80 L501.44,144.31 L501.53,143.81 L501.62,143.31 L501.71,142.81 L501.79,142.31 L501.87,141.81 L501.95,141.31 L502.02,140.81 L502.10,140.31 L502.17,139.81 L502.25,139.31 L502.32,138.81 L502.39,138.31 L502.45,137.82 L502.52,137.32 L502.59,136.82 L502.65,136.32 L502.71,135.82 L502.77,135.32 L502.83,134.82 L502.88,134.32 L502.94,133.82 L502.99,133.32 L503.04,132.82 L503.08,132.32 L503.13,131.82 L503.17,131.33 L503.21,130.83 L503.25,130.33 L503.29,129.83 L503.32,129.33 L503.36,128.83 L503.39,128.33 L503.42,127.83 L503.45,127.33 L503.48,126.83 L503.50,126.33 L503.53,125.83 L503.56,125.33 L503.58,124.83 L503.61,124.34 L503.63,123.84 L503.65,123.34 L503.67,122.84 L503.70,122.34 L503.72,121.84 L503.74,121.34 L503.76,120.84 L503.78,120.34 L503.81,119.84 L503.83,119.34 L503.85,118.84 L503.87,118.34 L503.89,117.85 L503.92,117.35 L503.94,116.85 L503.96,116.35 L503.98,115.85 L504.00,115.35 L504.02,114.85 L504.04,114.35 L504.06,113.85 L504.08,113.35 L504.10,112.85 L504.11,112.35 L504.13,111.85 L504.15,111.36 L504.17,110.86 L504.19,110.36 L504.21,109.86 L504.23,109.36 L504.25,108.86 L504.27,108.36 L504.29,107.86 L504.31,107.36 L504.33,106.86 L504.35,106.36 L504.37,105.86 L504.40,105.36 L504.42,104.87 L504.44,104.37 L504.47,103.87 L504.50,103.37Z" fill="#d9a3f0" stroke="#000" stroke-width="2.15" stroke-linejoin="round"/>
<line x1="401.70" y1="209.60" x2="414.70" y2="209.60" stroke="#e07800" stroke-width="0.7" stroke-dasharray="1.2 1.2"/>
<line x1="433.80" y1="209.70" x2="446.80" y2="209.70" stroke="#e03a20" stroke-width="0.8" stroke-dasharray="1.2 1.2"/>
<line x1="468.80" y1="199.60" x2="476.00" y2="199.60" stroke="#c83030" stroke-width="0.9" stroke-dasharray="1.2 1.2"/>
<line x1="465.80" y1="202.40" x2="479.00" y2="202.40" stroke="#d02828" stroke-width="1.1" stroke-dasharray="1.6 1.4"/>
<line x1="465.80" y1="204.90" x2="479.00" y2="204.90" stroke="#c83030" stroke-width="0.9" stroke-dasharray="1.2 1.2"/>
<line x1="501.90" y1="157.60" x2="507.10" y2="157.60" stroke="#9a50c8" stroke-width="0.9" stroke-dasharray="1.2 1.2"/>
<line x1="496.30" y1="170.80" x2="512.70" y2="170.80" stroke="#b04be0" stroke-width="1.1" stroke-dasharray="2 1.6"/>
<line x1="497.10" y1="181.20" x2="511.90" y2="181.20" stroke="#9a50c8" stroke-width="0.9" stroke-dasharray="1.2 1.2"/>
<line x1="387.1" y1="79.62" x2="387.1" y2="214.38" stroke="#000" stroke-width="1.35"/>
<line x1="381.2" y1="213.7" x2="525.7" y2="213.7" stroke="#000" stroke-width="1.35"/>
<line x1="381.2" y1="180.35" x2="387.1" y2="180.35" stroke="#000" stroke-width="1.35"/>
<line x1="381.2" y1="147.00" x2="387.1" y2="147.00" stroke="#000" stroke-width="1.35"/>
<line x1="381.2" y1="113.65" x2="387.1" y2="113.65" stroke="#000" stroke-width="1.35"/>
<line x1="381.2" y1="80.30" x2="387.1" y2="80.30" stroke="#000" stroke-width="1.35"/>
<line x1="408.20" y1="213.7" x2="408.20" y2="219.0" stroke="#000" stroke-width="1.35"/>
<line x1="440.30" y1="213.7" x2="440.30" y2="219.0" stroke="#000" stroke-width="1.35"/>
<line x1="472.40" y1="213.7" x2="472.40" y2="219.0" stroke="#000" stroke-width="1.35"/>
<line x1="504.50" y1="213.7" x2="504.50" y2="219.0" stroke="#000" stroke-width="1.35"/>
<text x="351.57 357.75 364.21 370.40" y="183.85" font-family="Liberation Sans, Arial, sans-serif" font-weight="bold" font-size="9.9" stroke="#000" stroke-width="0.25">2×10</text><text x="376.15" y="181.05" font-family="Liberation Sans, Arial, sans-serif" font-weight="bold" font-size="6.4" stroke="#000" stroke-width="0.2">5</text>
<text x="351.57 357.75 364.21 370.40" y="150.50" font-family="Liberation Sans, Arial, sans-serif" font-weight="bold" font-size="9.9" stroke="#000" stroke-width="0.25">4×10</text><text x="376.15" y="147.70" font-family="Liberation Sans, Arial, sans-serif" font-weight="bold" font-size="6.4" stroke="#000" stroke-width="0.2">5</text>
<text x="351.57 357.75 364.21 370.40" y="117.15" font-family="Liberation Sans, Arial, sans-serif" font-weight="bold" font-size="9.9" stroke="#000" stroke-width="0.25">6×10</text><text x="376.15" y="114.35" font-family="Liberation Sans, Arial, sans-serif" font-weight="bold" font-size="6.4" stroke="#000" stroke-width="0.2">5</text>
<text x="351.57 357.75 364.21 370.40" y="83.80" font-family="Liberation Sans, Arial, sans-serif" font-weight="bold" font-size="9.9" stroke="#000" stroke-width="0.25">8×10</text><text x="376.15" y="81.00" font-family="Liberation Sans, Arial, sans-serif" font-weight="bold" font-size="6.4" stroke="#000" stroke-width="0.2">5</text>
<text x="378.4" y="217.20" text-anchor="end" font-family="Liberation Sans, Arial, sans-serif" font-weight="bold" font-size="10" stroke="#000" stroke-width="0.25">0</text>
<text transform="translate(344.1,146.8) rotate(-90)" text-anchor="middle" font-family="Liberation Sans, Arial, sans-serif" font-weight="bold" font-size="11.12">Number of HER2 Receptors/Cell</text>
<text x="456.1" y="288.1" text-anchor="middle" font-family="Liberation Sans, Arial, sans-serif" font-weight="bold" font-size="11.45">Cell Line</text>
<text x="456.4" y="30.9" text-anchor="middle" font-family="Liberation Sans, Arial, sans-serif" font-weight="bold" font-size="13.4">HER2-Low Cells</text>
<text transform="translate(412.00,227.8) rotate(-43.5)" text-anchor="end" font-family="Liberation Sans, Arial, sans-serif" font-weight="bold" font-size="10.3" letter-spacing="0.22" stroke="#000" stroke-width="0.2">MCF-7</text>
<text transform="translate(444.10,227.8) rotate(-43.5)" text-anchor="end" font-family="Liberation Sans, Arial, sans-serif" font-weight="bold" font-size="10.3" letter-spacing="0.22" stroke="#000" stroke-width="0.2">MDA-MB-231</text>
<text transform="translate(476.20,227.8) rotate(-43.5)" text-anchor="end" font-family="Liberation Sans, Arial, sans-serif" font-weight="bold" font-size="10.3" letter-spacing="0.22" stroke="#000" stroke-width="0.2">OVCAR3</text>
<text transform="translate(508.30,227.8) rotate(-43.5)" text-anchor="end" font-family="Liberation Sans, Arial, sans-serif" font-weight="bold" font-size="10.3" letter-spacing="0.22" stroke="#000" stroke-width="0.2">MDA-MB-453</text>
<line x1="406.5" y1="65.9" x2="507.6" y2="65.9" stroke="#111" stroke-width="1.8"/>
<text x="441.15 449.50 457.85 466.20" y="63.45" font-family="DejaVu Sans, sans-serif" font-size="12.5" stroke="#000" stroke-width="0.6" stroke-linejoin="round">****</text>
<path d="M408.20,194 V87.5 H440.30 V194" fill="none" stroke="#000" stroke-width="1.3"/>
<text x="424.25" y="80.7" text-anchor="middle" font-family="Liberation Sans, Arial, sans-serif" font-size="11.3" stroke="#000" stroke-width="0.15">ns</text>
<line x1="316.90" y1="6.7" x2="320.90" y2="6.7" stroke="#727272" stroke-width="1.8"/><line x1="327.72" y1="6.7" x2="334.22" y2="6.7" stroke="#727272" stroke-width="1.8"/><line x1="341.04" y1="6.7" x2="347.54" y2="6.7" stroke="#727272" stroke-width="1.8"/><line x1="354.36" y1="6.7" x2="360.86" y2="6.7" stroke="#727272" stroke-width="1.8"/><line x1="367.68" y1="6.7" x2="374.18" y2="6.7" stroke="#727272" stroke-width="1.8"/><line x1="381.00" y1="6.7" x2="387.50" y2="6.7" stroke="#727272" stroke-width="1.8"/><line x1="394.32" y1="6.7" x2="400.82" y2="6.7" stroke="#727272" stroke-width="1.8"/><line x1="407.64" y1="6.7" x2="414.14" y2="6.7" stroke="#727272" stroke-width="1.8"/><line x1="420.96" y1="6.7" x2="427.46" y2="6.7" stroke="#727272" stroke-width="1.8"/><line x1="434.28" y1="6.7" x2="440.78" y2="6.7" stroke="#727272" stroke-width="1.8"/><line x1="447.60" y1="6.7" x2="454.10" y2="6.7" stroke="#727272" stroke-width="1.8"/><line x1="460.92" y1="6.7" x2="467.42" y2="6.7" stroke="#727272" stroke-width="1.8"/><line x1="474.24" y1="6.7" x2="480.74" y2="6.7" stroke="#727272" stroke-width="1.8"/><line x1="487.56" y1="6.7" x2="494.06" y2="6.7" stroke="#727272" stroke-width="1.8"/><line x1="500.88" y1="6.7" x2="507.38" y2="6.7" stroke="#727272" stroke-width="1.8"/><line x1="514.20" y1="6.7" x2="520.70" y2="6.7" stroke="#727272" stroke-width="1.8"/><line x1="527.52" y1="6.7" x2="534.02" y2="6.7" stroke="#727272" stroke-width="1.8"/><line x1="540.84" y1="6.7" x2="544.70" y2="6.7" stroke="#727272" stroke-width="1.8"/>
<line x1="316.90" y1="303.3" x2="320.90" y2="303.3" stroke="#727272" stroke-width="1.8"/><line x1="327.72" y1="303.3" x2="334.22" y2="303.3" stroke="#727272" stroke-width="1.8"/><line x1="341.04" y1="303.3" x2="347.54" y2="303.3" stroke="#727272" stroke-width="1.8"/><line x1="354.36" y1="303.3" x2="360.86" y2="303.3" stroke="#727272" stroke-width="1.8"/><line x1="367.68" y1="303.3" x2="374.18" y2="303.3" stroke="#727272" stroke-width="1.8"/><line x1="381.00" y1="303.3" x2="387.50" y2="303.3" stroke="#727272" stroke-width="1.8"/><line x1="394.32" y1="303.3" x2="400.82" y2="303.3" stroke="#727272" stroke-width="1.8"/><line x1="407.64" y1="303.3" x2="414.14" y2="303.3" stroke="#727272" stroke-width="1.8"/><line x1="420.96" y1="303.3" x2="427.46" y2="303.3" stroke="#727272" stroke-width="1.8"/><line x1="434.28" y1="303.3" x2="440.78" y2="303.3" stroke="#727272" stroke-width="1.8"/><line x1="447.60" y1="303.3" x2="454.10" y2="303.3" stroke="#727272" stroke-width="1.8"/><line x1="460.92" y1="303.3" x2="467.42" y2="303.3" stroke="#727272" stroke-width="1.8"/><line x1="474.24" y1="303.3" x2="480.74" y2="303.3" stroke="#727272" stroke-width="1.8"/><line x1="487.56" y1="303.3" x2="494.06" y2="303.3" stroke="#727272" stroke-width="1.8"/><line x1="500.88" y1="303.3" x2="507.38" y2="303.3" stroke="#727272" stroke-width="1.8"/><line x1="514.20" y1="303.3" x2="520.70" y2="303.3" stroke="#727272" stroke-width="1.8"/><line x1="527.52" y1="303.3" x2="534.02" y2="303.3" stroke="#727272" stroke-width="1.8"/><line x1="540.84" y1="303.3" x2="544.70" y2="303.3" stroke="#727272" stroke-width="1.8"/>
<line x1="317.79999999999995" y1="5.80" x2="317.79999999999995" y2="9.83" stroke="#727272" stroke-width="1.8"/><line x1="317.79999999999995" y1="16.70" x2="317.79999999999995" y2="23.30" stroke="#727272" stroke-width="1.8"/><line x1="317.79999999999995" y1="30.17" x2="317.79999999999995" y2="36.77" stroke="#727272" stroke-width="1.8"/><line x1="317.79999999999995" y1="43.64" x2="317.79999999999995" y2="50.24" stroke="#727272" stroke-width="1.8"/><line x1="317.79999999999995" y1="57.11" x2="317.79999999999995" y2="63.71" stroke="#727272" stroke-width="1.8"/><line x1="317.79999999999995" y1="70.58" x2="317.79999999999995" y2="77.18" stroke="#727272" stroke-width="1.8"/><line x1="317.79999999999995" y1="84.05" x2="317.79999999999995" y2="90.65" stroke="#727272" stroke-width="1.8"/><line x1="317.79999999999995" y1="97.52" x2="317.79999999999995" y2="104.12" stroke="#727272" stroke-width="1.8"/><line x1="317.79999999999995" y1="110.99" x2="317.79999999999995" y2="117.59" stroke="#727272" stroke-width="1.8"/><line x1="317.79999999999995" y1="124.46" x2="317.79999999999995" y2="131.06" stroke="#727272" stroke-width="1.8"/><line x1="317.79999999999995" y1="137.93" x2="317.79999999999995" y2="144.53" stroke="#727272" stroke-width="1.8"/><line x1="317.79999999999995" y1="151.40" x2="317.79999999999995" y2="158.00" stroke="#727272" stroke-width="1.8"/><line x1="317.79999999999995" y1="164.87" x2="317.79999999999995" y2="171.47" stroke="#727272" stroke-width="1.8"/><line x1="317.79999999999995" y1="178.34" x2="317.79999999999995" y2="184.94" stroke="#727272" stroke-width="1.8"/><line x1="317.79999999999995" y1="191.81" x2="317.79999999999995" y2="198.41" stroke="#727272" stroke-width="1.8"/><line x1="317.79999999999995" y1="205.28" x2="317.79999999999995" y2="211.88" stroke="#727272" stroke-width="1.8"/><line x1="317.79999999999995" y1="218.75" x2="317.79999999999995" y2="225.35" stroke="#727272" stroke-width="1.8"/><line x1="317.79999999999995" y1="232.22" x2="317.79999999999995" y2="238.82" stroke="#727272" stroke-width="1.8"/><line x1="317.79999999999995" y1="245.69" x2="317.79999999999995" y2="252.29" stroke="#727272" stroke-width="1.8"/><line x1="317.79999999999995" y1="259.16" x2="317.79999999999995" y2="265.76" stroke="#727272" stroke-width="1.8"/><line x1="317.79999999999995" y1="272.63" x2="317.79999999999995" y2="279.23" stroke="#727272" stroke-width="1.8"/><line x1="317.79999999999995" y1="286.10" x2="317.79999999999995" y2="292.70" stroke="#727272" stroke-width="1.8"/><line x1="317.79999999999995" y1="299.57" x2="317.79999999999995" y2="304.20" stroke="#727272" stroke-width="1.8"/>
<line x1="543.8000000000001" y1="5.80" x2="543.8000000000001" y2="9.83" stroke="#727272" stroke-width="1.8"/><line x1="543.8000000000001" y1="16.70" x2="543.8000000000001" y2="23.30" stroke="#727272" stroke-width="1.8"/><line x1="543.8000000000001" y1="30.17" x2="543.8000000000001" y2="36.77" stroke="#727272" stroke-width="1.8"/><line x1="543.8000000000001" y1="43.64" x2="543.8000000000001" y2="50.24" stroke="#727272" stroke-width="1.8"/><line x1="543.8000000000001" y1="57.11" x2="543.8000000000001" y2="63.71" stroke="#727272" stroke-width="1.8"/><line x1="543.8000000000001" y1="70.58" x2="543.8000000000001" y2="77.18" stroke="#727272" stroke-width="1.8"/><line x1="543.8000000000001" y1="84.05" x2="543.8000000000001" y2="90.65" stroke="#727272" stroke-width="1.8"/><line x1="543.8000000000001" y1="97.52" x2="543.8000000000001" y2="104.12" stroke="#727272" stroke-width="1.8"/><line x1="543.8000000000001" y1="110.99" x2="543.8000000000001" y2="117.59" stroke="#727272" stroke-width="1.8"/><line x1="543.8000000000001" y1="124.46" x2="543.8000000000001" y2="131.06" stroke="#727272" stroke-width="1.8"/><line x1="543.8000000000001" y1="137.93" x2="543.8000000000001" y2="144.53" stroke="#727272" stroke-width="1.8"/><line x1="543.8000000000001" y1="151.40" x2="543.8000000000001" y2="158.00" stroke="#727272" stroke-width="1.8"/><line x1="543.8000000000001" y1="164.87" x2="543.8000000000001" y2="171.47" stroke="#727272" stroke-width="1.8"/><line x1="543.8000000000001" y1="178.34" x2="543.8000000000001" y2="184.94" stroke="#727272" stroke-width="1.8"/><line x1="543.8000000000001" y1="191.81" x2="543.8000000000001" y2="198.41" stroke="#727272" stroke-width="1.8"/><line x1="543.8000000000001" y1="205.28" x2="543.8000000000001" y2="211.88" stroke="#727272" stroke-width="1.8"/><line x1="543.8000000000001" y1="218.75" x2="543.8000000000001" y2="225.35" stroke="#727272" stroke-width="1.8"/><line x1="543.8000000000001" y1="232.22" x2="543.8000000000001" y2="238.82" stroke="#727272" stroke-width="1.8"/><line x1="543.8000000000001" y1="245.69" x2="543.8000000000001" y2="252.29" stroke="#727272" stroke-width="1.8"/><line x1="543.8000000000001" y1="259.16" x2="543.8000000000001" y2="265.76" stroke="#727272" stroke-width="1.8"/><line x1="543.8000000000001" y1="272.63" x2="543.8000000000001" y2="279.23" stroke="#727272" stroke-width="1.8"/><line x1="543.8000000000001" y1="286.10" x2="543.8000000000001" y2="292.70" stroke="#727272" stroke-width="1.8"/><line x1="543.8000000000001" y1="299.57" x2="543.8000000000001" y2="304.20" stroke="#727272" stroke-width="1.8"/>
</svg>
</body></html>
